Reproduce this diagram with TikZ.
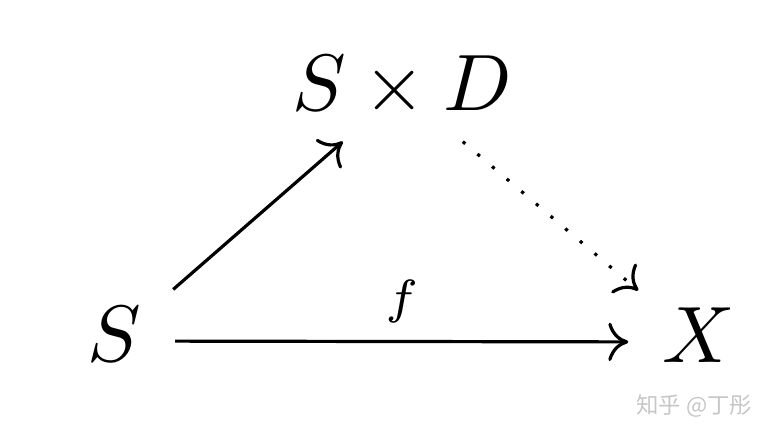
\documentclass[tikz,border=0pt]{standalone}
\usepackage{fontspec}
\newfontfamily\cjk{Noto Sans CJK SC}
\usetikzlibrary{arrows.meta}

\begin{document}
\begin{tikzpicture}[
                    x=0.125pt,
                    y=-0.125pt,
                    line width=0.4pt,
                    >={Computer Modern Rightarrow[length=2.5pt,width=4.8pt]},
                    obj/.style={anchor=base, inner xsep=4.1pt, inner ysep=1.75pt,
                                text height=7pt, text depth=2pt},
                    lbl/.style={above, inner sep=2.1pt, font=\fontsize{6}{7}\selectfont},
                ]
                \useasboundingbox (0,0) rectangle (780,436);

                \node[obj] (s) at (114,361) {$S$} ;
                \node[obj] (sd) at (402,110) {$S\times D$} ;
                \node[obj] (x) at (699,362) {$X$} ;

                \draw[->] (s) -- (sd) ;
                \draw[->,dotted] (sd) -- (x) ;
                \draw[->] (s) -- node[lbl] {$f$} (x) ;

                % watermark
                \node[anchor=base west, inner sep=0pt, text=gray!45,
                      font=\cjk\fontsize{2.8}{3}\selectfont] (wm) at (635,413) {知乎 @丁彤} ;
            \end{tikzpicture}
\end{document}
